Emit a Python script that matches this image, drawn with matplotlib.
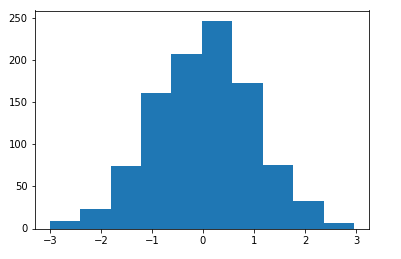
import numpy as np
import matplotlib.pyplot as plt

# histogram: 10 bins
bin_lo = -3.0
bin_hi = 2.96
counts = [9, 23, 74, 161, 207, 246, 172, 75, 32, 6]

edges = np.linspace(bin_lo, bin_hi, len(counts) + 1)
centers = (edges[:-1] + edges[1:]) / 2

W, H = 401, 259
fig = plt.figure(figsize=(W / 72, H / 72), dpi=72)
ax = fig.add_axes([34.5 / W, (H - 228.5) / H, 334.8 / W, 218 / H])

ax.hist(centers, bins=edges, weights=counts, color='#1f77b4')

ax.tick_params(labelsize=10)
for s in ax.spines.values():
    s.set_linewidth(0.8)

fig.savefig('out.png', dpi=72)
plt.close(fig)
